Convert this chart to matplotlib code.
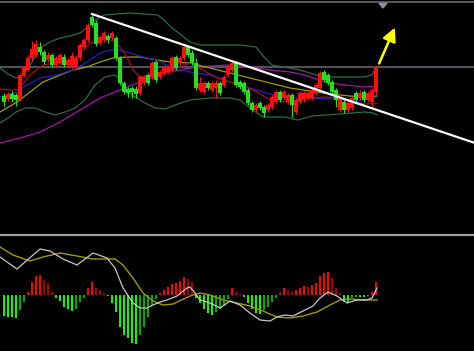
import numpy as np
import matplotlib
matplotlib.use("Agg")
import matplotlib.pyplot as plt
from matplotlib.lines import Line2D

# candles (price units), one per bar
opens = [144, 141, 146, 145, 140, 165, 170, 182, 185, 193, 188, 180, 185, 175, 177, 183, 175, 174, 173, 182,
         193, 200, 223, 217, 197, 200, 204, 202, 202, 182, 157, 151, 152, 151, 147, 157, 165, 163, 178, 163,
         167, 168, 170, 183, 177, 182, 193, 187, 177, 150, 148, 157, 150, 152, 157, 155, 165, 170, 177, 158,
         157, 150, 137, 130, 137, 133, 130, 133, 138, 148, 142, 138, 145, 128, 138, 140, 142, 142, 147, 152,
         168, 165, 158, 150, 130, 138, 130, 132, 147, 142, 148, 140, 138, 148]
highs = [147, 148, 149, 147, 167, 174, 185, 199, 200, 198, 190, 188, 187, 184, 187, 186, 182, 188, 184, 197,
         202, 217, 226, 220, 205, 209, 206, 209, 204, 184, 159, 153, 154, 154, 165, 165, 167, 179, 180, 170,
         174, 175, 184, 185, 184, 195, 195, 190, 182, 163, 159, 159, 159, 160, 159, 165, 174, 180, 179, 160,
         159, 152, 139, 137, 139, 135, 137, 145, 150, 150, 150, 147, 147, 142, 149, 149, 149, 152, 157, 169,
         170, 167, 160, 152, 144, 140, 139, 144, 149, 150, 150, 149, 152, 174]
lows = [134, 139, 138, 134, 139, 163, 169, 180, 183, 185, 176, 178, 173, 173, 175, 173, 173, 172, 171, 180,
        191, 198, 213, 194, 195, 198, 197, 200, 180, 155, 146, 143, 142, 142, 145, 155, 155, 161, 158, 161,
        165, 166, 168, 170, 175, 180, 183, 175, 150, 148, 146, 150, 148, 142, 145, 153, 163, 168, 153, 151,
        146, 135, 128, 128, 130, 123, 128, 131, 136, 138, 140, 136, 123, 126, 136, 138, 140, 140, 145, 150,
        158, 155, 146, 133, 128, 127, 128, 130, 138, 140, 138, 138, 133, 145]
closes = [138, 146, 141, 140, 165, 172, 182, 191, 196, 188, 178, 185, 175, 182, 185, 175, 180, 184, 182, 195,
          200, 215, 215, 196, 203, 207, 200, 207, 182, 157, 148, 147, 148, 146, 163, 163, 157, 177, 160, 168,
          172, 173, 182, 172, 182, 193, 185, 177, 152, 157, 157, 152, 157, 157, 147, 163, 172, 177, 155, 153,
          148, 137, 130, 135, 132, 127, 135, 143, 148, 140, 148, 145, 135, 140, 147, 147, 147, 150, 155, 167,
          160, 157, 148, 140, 142, 130, 137, 142, 140, 147, 140, 147, 150, 173]

# overlay lines: (bar, price)
bb_up_x = [-1, 1, 3, 5, 7, 9, 11.5, 14, 16.5, 19, 21, 23, 25, 28, 31.5, 35, 38.5, 40, 42, 44, 46.5, 49, 54, 59,
           63, 65, 67, 70, 74, 78, 81.5, 86.5, 90, 92, 93]
bb_up_y = [172, 166, 162, 165, 178, 192, 198, 202, 204, 207, 213, 220, 225, 226, 227, 226, 225, 220, 212, 206,
           198, 195, 195, 195, 193, 183, 175, 173, 170, 165, 163, 163, 163, 165, 173]
bb_lo_x = [-1, 1, 3, 5.25, 7.75, 10.25, 12.75, 15.25, 17.75, 20.25, 22.75, 25.25, 27.75, 29.5, 32, 35.25, 37.75,
           40.25, 42.75, 46.5, 51.5, 56.5, 59, 61.5, 64.75, 68.25, 70.25, 73.5, 77, 80.25, 87, 90.25, 92.25, 93.25]
bb_lo_y = [117, 122, 128, 132, 132, 128, 125, 128, 132, 140, 155, 163, 165, 158, 145, 137, 132, 131, 135, 140,
           142, 142, 140, 132, 123, 123, 123, 120, 124, 125, 127, 128, 127, 125]
ma_red_x = [-1, 1.5, 3.25, 4.5, 6.5, 9.75, 14, 17.25, 19.75, 21.5, 24, 26.5, 27.75, 29, 30.75, 32.25, 34, 35.75,
            37.75, 40.25, 44, 46.5, 49.75, 53.25, 56.5, 59.75, 63.25, 66.5, 70.25, 73.5, 77, 80.25, 83.5, 87,
            90.25, 93.25]
ma_red_y = [151, 150, 150, 155, 165, 175, 178, 180, 190, 197, 200, 200, 198, 193, 183, 170, 163, 164, 166, 167,
            173, 177, 170, 162, 158, 155, 148, 140, 138, 140, 142, 143, 142, 138, 136, 137]
ma_blue_x = [-1, 3.25, 5.75, 9, 13.25, 17.25, 20.75, 24, 26.5, 29, 31.5, 34.75, 38.25, 41.5, 46.5, 51.5, 56.5,
             61.5, 66.5, 71.5, 76.5, 81.5, 87, 90.25, 93.25]
ma_blue_y = [143, 148, 155, 162, 165, 170, 178, 187, 190, 190, 187, 183, 180, 173, 168, 165, 158, 152, 146, 142,
             142, 141, 140, 140, 143]
ma_yel_x = [-1, 3.25, 6.5, 9.75, 14, 17.25, 20.75, 24, 27.25, 30.75, 34, 38.25, 41.5, 46.5, 51.5, 56.5, 61.5,
            66.5, 71.5, 76.5, 81.5, 86.5, 90.25, 93.25]
ma_yel_y = [128, 138, 148, 158, 165, 170, 173, 178, 182, 183, 183, 180, 178, 177, 172, 167, 162, 157, 152, 149,
            146, 144, 143, 144]
ma_mag_x = [-1, 4, 9, 14, 19, 24, 29, 34, 39, 41.5, 46.5, 51.5, 56.5, 61.5, 66.5, 71.5, 75.25, 80.25, 85.25,
            90.25, 93.25]
ma_mag_y = [97, 102, 108, 118, 130, 142, 150, 158, 165, 168, 172, 174, 175, 173, 170, 168, 165, 158, 155, 153, 154]

level_price = 173
trend_pts = [(22, 226), (117, 98)]
arrow_from = (93.5, 174)
arrow_to = (98, 215)

# MACD panel
hist = [-21, -22, -22, -23, -15, -7, 3, 13, 19, 20, 15, 12, 3, -3, -6, -12, -14, -16, -14, -7,
        -3, 7, 13, 7, 5, 2, -1, -8, -17, -32, -40, -43, -48, -49, -40, -32, -22, -10, -4, 2,
        5, 8, 11, 12, 14, 18, 16, 13, -3, -8, -14, -18, -20, -17, -14, -11, -4, 7, 3, 1,
        -2, -8, -14, -18, -19, -15, -12, -7, -3, 2, 7, 5, 3, 5, 7, 9, 8, 10, 12, 19,
        22, 23, 17, 7, 2, -7, -7, -3, -2, -2, -2, -1, 3, 13]
macd_x = [-1, 3.25, 9, 11.5, 14.75, 18.25, 22.25, 25.75, 27.75, 29.75, 32.25, 34, 35.75, 37.25, 39, 40.75,
          43.25, 45.75, 46.5, 47.75, 49, 51.5, 54, 56.5, 59, 61.5, 64, 66.5, 68.25, 70.25, 72.25, 74.75,
          77.25, 79, 81, 83.25, 85.75, 88.25, 90.75, 92, 93.25]
macd_y = [38, 26, 46, 44, 36, 30, 42, 37, 27, 7, -8, -13, -13, -10, -7, -5, -1, 7, 8, 2, -5, -8, -13, -6, -10,
          -18, -25, -26, -22, -20, -21, -16, -11, -3, 3, -1, -8, -5, -5, -3, 7]
sig_x = [-1, 2.25, 6.5, 9.75, 14, 18.25, 22.25, 27.75, 29.75, 32.25, 34.75, 37.25, 39.75, 42.25, 46.5, 49, 51.5,
         54.75, 58.25, 61.5, 64.75, 68.25, 71.5, 74.75, 78.25, 81.5, 84, 86.5, 89.75, 93.25]
sig_y = [48, 40, 34, 38, 42, 39, 36, 36, 30, 17, 2, -6, -10, -9, -1, 2, 0, -5, -8, -11, -16, -22, -23, -21, -17,
         -10, -5, -4, -5, -5]

W, H = 474, 351
fig = plt.figure(figsize=(W / 100, H / 100), dpi=100, facecolor="black")
ax = fig.add_axes([0, 118 / H, 1, 233 / H])
ax2 = fig.add_axes([0, 0, 1, 114 / H])
for a in (ax, ax2):
    a.set_facecolor("black")
    a.axis("off")
    a.set_xlim(-1, 117.5)
ax.set_ylim(7, 240)
ax2.set_ylim(-56, 58)

# price panel
ax.axhline(level_price, color="#5c646c", lw=1.2, zorder=1)
ax.plot(bb_up_x, bb_up_y, color="#2e6a48", lw=0.9, zorder=2)
ax.plot(bb_lo_x, bb_lo_y, color="#2e6a48", lw=0.9, zorder=2)
ax.plot(ma_mag_x, ma_mag_y, color="#a812a8", lw=0.9, zorder=2)
ax.plot(ma_yel_x, ma_yel_y, color="#a49c00", lw=0.9, zorder=2)
ax.plot(ma_blue_x, ma_blue_y, color="#1c22c8", lw=0.9, zorder=2)
ax.plot(ma_red_x, ma_red_y, color="#a81010", lw=0.9, zorder=2)

o = np.array(opens)
c = np.array(closes)
idx = np.arange(len(o))
cols = np.where(c >= o, "#ff1010", "#22e022")
ax.vlines(idx, lows, highs, colors=cols, lw=0.8, zorder=3)
ax.bar(idx, np.maximum(np.abs(c - o), 1), bottom=np.minimum(o, c), width=0.8, color=cols, zorder=4)

(x0, y0), (x1, y1) = trend_pts
slope = (y1 - y0) / (x1 - x0)
ax.plot([x0, 117.5], [y0, y0 + slope * (117.5 - x0)], color="white", lw=1.6, zorder=5)
ax.annotate("", xy=arrow_to, xytext=arrow_from,
            arrowprops=dict(arrowstyle="-|>,head_length=0.8,head_width=0.4", color="#ffff00", lw=1.8),
            zorder=6)

# MACD panel
hist_cols = []
for k, v in enumerate(hist):
    prev = hist[k - 1] if k > 0 else v
    if v >= 0:
        hist_cols.append("#ff0000" if v >= prev else "#a00000")
    else:
        hist_cols.append("#00ff00" if v <= prev else "#00a800")
ax2.bar(np.arange(len(hist)), hist, width=0.5, color=hist_cols, zorder=2)
ax2.plot(sig_x, sig_y, color="#a09a00", lw=1.0, zorder=3)
ax2.plot(macd_x, macd_y, color="#c8c8c8", lw=0.9, zorder=4)

# frame lines
fig.add_artist(Line2D([0, 1], [1 - 2 / H, 1 - 2 / H], color="#6a6a6a", lw=1.2))
fig.add_artist(Line2D([0, 1], [1 - 235 / H, 1 - 235 / H], color="#a0a0a0", lw=1.6))
fig.add_artist(plt.Polygon([[379 / W, 1 - 3 / H], [387 / W, 1 - 3 / H], [383 / W, 1 - 8 / H]],
                           closed=True, color="#8a94a0"))

fig.savefig("out.png", dpi=100, facecolor="black")
